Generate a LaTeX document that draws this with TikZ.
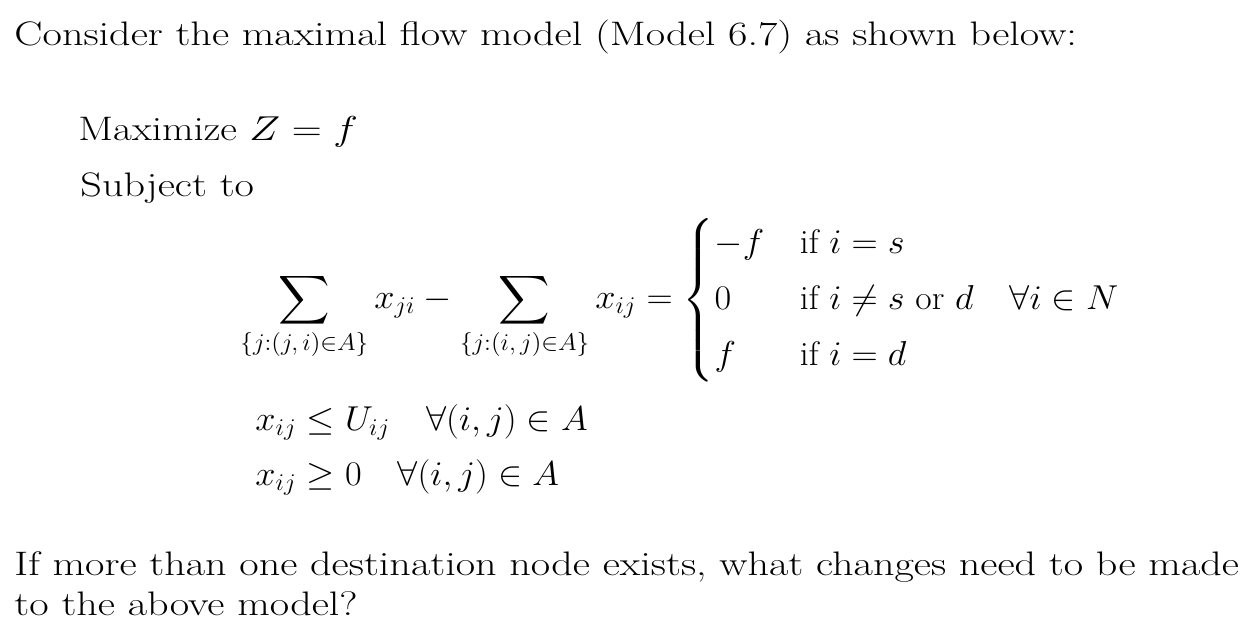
\documentclass[tikz,border=0pt]{standalone}
\usepackage{amsmath,amssymb}
\begin{document}
\begin{tikzpicture}[x=0.5pt,y=-0.5pt,txt/.style={anchor=base west,inner sep=0pt,font=\fontsize{17}{20}\selectfont},
prose/.style={txt,xscale=1.24,transform shape},mth/.style={txt,xscale=1.05,transform shape}]
\useasboundingbox (0,0) rectangle (1260,639);
\node[prose] (l1) at (14,45) {Consider the maximal flow model (Model 6.7) as shown below:};
\node[prose,xscale=0.97] (l2) at (78,140) {Maximize $Z=f$};
\node[prose] (l3) at (80,196) {Subject to};
\node[mth,anchor=west] (eq) at (240,300) {$\displaystyle \sum_{\{j:(j,\,i)\in A\}} x_{ji}-\sum_{\{j:(i,\,j)\in A\}} x_{ij}=
\begin{cases} -f & \text{if } i=s\\[4pt] 0 & \text{if } i\neq s \text{ or } d\quad \forall i\in N\\[4pt] f & \text{if } i=d\end{cases}$};
\node[mth] (c1) at (255,430) {$x_{ij}\le U_{ij}\quad \forall (i,j)\in A$};
\node[mth] (c2) at (255,485) {$x_{ij}\ge 0\quad \forall (i,j)\in A$};
\node[prose] (q1) at (14,575) {If more than one destination node exists, what changes need to be made};
\node[prose] (q2) at (14,615) {to the above model?};
\end{tikzpicture}
\end{document}
